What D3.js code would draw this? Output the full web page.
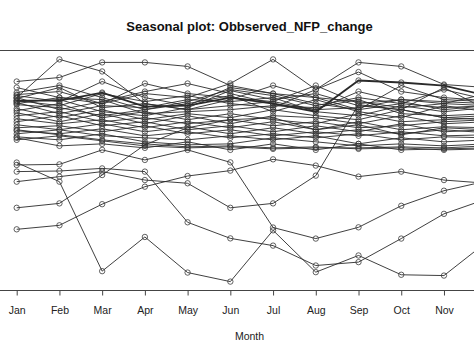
<!DOCTYPE html>
<html>
<head>
<meta charset="utf-8">
<script src="https://cdn.jsdelivr.net/npm/d3@7"></script>
<style>
  html, body { margin: 0; padding: 0; background: #fff; }
  svg { display: block; }
  text { font-family: "Liberation Sans", Arial, sans-serif; }
</style>
</head>
<body>
<svg id="chart" width="474" height="355"></svg>
<script>
const months = ["Jan","Feb","Mar","Apr","May","Jun","Jul","Aug","Sep","Oct","Nov","Dec"];
const title = "Seasonal plot: Obbserved_NFP_change";
const xLabel = "Month";

// cluster years (values in thousands, Jan..Dec)
const clusterSeries = [
  [385, 420, 360, 300, 340, 400, 370, 320, 360, 330, 400, 350],
  [375, 390, 330, 430, 380, 360, 340, 420, 330, 350, 340, 330],
  [370, 340, 440, 360, 320, 410, 380, 330, 300, 420, 350, 340],
  [360, 300, 340, 390, 430, 380, 330, 300, 390, 340, 300, 320],
  [355, 410, 310, 330, 300, 350, 420, 360, 340, 310, 330, 380],
  [345, 320, 380, 340, 370, 330, 310, 400, 487, 390, 360, 345],
  [340, 350, 290, 270, 310, 395, 350, 380, 320, 300, 410, 300],
  [335, 280, 320, 310, 350, 340, 360, 290, 270, 320, 290, 310],
  [330, 360, 350, 280, 290, 300, 320, 310, 350, 280, 270, 280],
  [325, 310, 270, 300, 330, 370, 290, 350, 290, 260, 320, 290],
  [305, 260, 300, 250, 280, 260, 300, 270, 250, 300, 260, 270],
  [295, 330, 260, 290, 250, 280, 250, 230, 280, 240, 250, 260],
  [285, 240, 280, 230, 270, 230, 270, 260, 230, 270, 230, 240],
  [270, 290, 240, 260, 230, 250, 220, 240, 210, 220, 240, 250],
  [255, 230, 250, 210, 240, 210, 240, 200, 240, 200, 215, 210],
  [240, 270, 220, 240, 200, 220, 190, 220, 190, 230, 190, 200],
  [225, 200, 230, 190, 215, 180, 210, 180, 200, 180, 200, 185],
  [210, 220, 190, 220, 180, 200, 170, 190, 170, 190, 170, 175],
  [195, 180, 205, 170, 190, 160, 180, 160, 180, 150, 165, 160],
  [180, 200, 170, 160, 150, 170, 150, 170, 130, 160, 140, 150],
  [165, 150, 180, 140, 125, 130, 160, 140, 120, 130, 120, 130],
  [150, 170, 145, 120, 110, 115, 105, 110, 110, 115, 110, 120],
  [160, 120, 130, 110, 140, 100, 130, 100, 130, 100, 105, 110],
  [200, 175, 150, 130, 115, 120, 110, 115, 105, 110, 100, 105]
];

// weaker years
const lowSeries = [
  [  37,  -58, -503, -333, -510, -555, -300, -508, -425, -521, -525, -358],
  [-295, -275, -170,  -83,  -30,   -3,   53,   22,  -33,   -8,  -50,  -66],
  [ -58,  -33,   -8,  -50,  -66, -188, -166,  -28,  325,  300,  260,  250],
  [-188, -166,  -25,  125,  210,  250,  260,  200,  225,  175,  210,  200],
  [  -8,   -5,    8,   -8, -260, -340, -376, -475, -458, -341, -218, -144],
  [  25,   28,  100,   50,  100,   38, -286, -341, -285, -178, -103,  -55]
];

// strong years
const highSeries = [
  [360, 550, 490, 330, 300, 320, 340, 300, 310, 350, 330, 320],
  [440, 460, 535, 535, 515, 420, 380, 360, 300, 330, 310, 320],
  [410, 360, 330, 380, 360, 430, 550, 400, 535, 515, 425, 410]
];

// the heavy line
const boldSeries = [345, 345, 385, 315, 320, 360, 330, 290, 445, 435, 420, 370];

const svg = d3.select("#chart");
const plotTop = 50.5, plotBottom = 290.5;

const x = d3.scaleLinear().domain([0.56, 12.44]).range([-2.1, 505.5]);

const allVals = [].concat(...clusterSeries, ...lowSeries, ...highSeries, boldSeries);
const [vmin, vmax] = d3.extent(allVals);
const pad = 0.04 * (vmax - vmin);
const y = d3.scaleLinear().domain([vmin - pad, vmax + pad]).range([plotBottom, plotTop]);

// frame
svg.append("rect")
  .attr("x", x.range()[0]).attr("y", plotTop)
  .attr("width", x.range()[1] - x.range()[0]).attr("height", plotBottom - plotTop)
  .attr("fill", "none").attr("stroke", "#444").attr("stroke-width", 1);

const line = d3.line().x((d, i) => x(i + 1)).y(d => y(d));

function drawSeries(vals, width) {
  const g = svg.append("g");
  g.append("path").datum(vals).attr("d", line)
    .attr("fill", "none").attr("stroke", "#2a2a2a").attr("stroke-width", width);
  g.selectAll("circle").data(vals).join("circle")
    .attr("cx", (d, i) => x(i + 1)).attr("cy", d => y(d)).attr("r", 2.7)
    .attr("fill", "none").attr("stroke", "#3a3a3a").attr("stroke-width", 0.8);
}

clusterSeries.forEach(s => drawSeries(s, 0.9));
lowSeries.forEach(s => drawSeries(s, 0.9));
highSeries.forEach(s => drawSeries(s, 0.9));
drawSeries(boldSeries, 1.8);

// x axis
const axis = d3.axisBottom(x)
  .tickValues(d3.range(1, 13))
  .tickFormat(i => months[i - 1])
  .tickSize(5).tickPadding(11);
const ag = svg.append("g").attr("transform", `translate(0,${plotBottom})`).call(axis);
ag.select(".domain").remove();
ag.selectAll(".tick line").attr("stroke", "#444");
ag.selectAll(".tick text").attr("fill", "#222").style("font-size", "10.5px")
  .style("font-family", "'Liberation Sans', Arial, sans-serif");

// title
svg.append("text").attr("x", 249.5).attr("y", 31)
  .attr("text-anchor", "middle").style("font-weight", "bold").style("font-size", "13px")
  .attr("fill", "#111").text(title);

// x label
svg.append("text").attr("x", 249.5).attr("y", 339.5)
  .attr("text-anchor", "middle").style("font-size", "10.5px").attr("fill", "#222").text(xLabel);
</script>
</body>
</html>
